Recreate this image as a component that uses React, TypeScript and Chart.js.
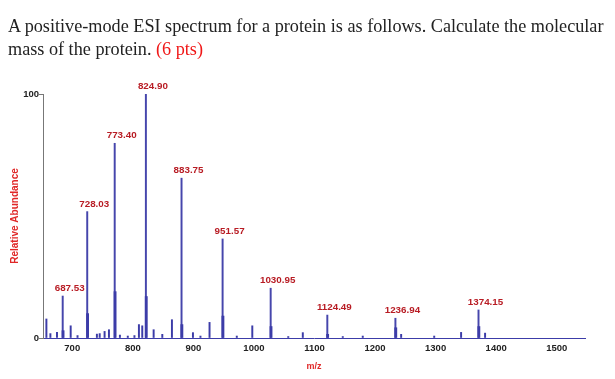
import React, { useEffect, useRef } from "react";
import { Chart, registerables } from "chart.js";

Chart.register(...registerables);

// Labelled charge-state peaks (m/z, relative abundance %)
const peakMz = [687.53, 728.03, 773.4, 824.9, 883.75, 951.57, 1030.95, 1124.49, 1236.94, 1374.15];
const peakAbundance = [17.2, 51.8, 79.8, 100, 65.5, 40.6, 20.4, 9.4, 8.1, 11.5];

// Broadened lower parts next to the main peaks
const shoulderMz = [688.1, 728.6, 774.0, 825.5, 884.3, 952.1, 1031.5, 1125.0, 1237.5, 1374.7];
const shoulderAbundance = [3, 10, 19, 17, 5.5, 9, 4.7, 1.5, 4.2, 4.7];

// Small background peaks
const noiseMz = [660.6, 667.2, 678.1, 700.7, 712, 744, 748.6, 756.7, 763.9, 782, 795, 806, 813.4, 818.9, 837.7, 852, 867.9, 902.6, 915, 930, 975, 1000.6, 1060, 1084, 1150, 1183, 1246.4, 1301, 1345.4, 1385];
const noiseAbundance = [7.8, 1.8, 2.3, 5.0, 1.0, 1.6, 1.8, 2.7, 3.4, 1.2, 0.8, 1.0, 5.5, 5.0, 3.4, 1.5, 7.5, 2.2, 0.8, 6.4, 0.8, 5.0, 0.6, 2.2, 0.6, 0.8, 1.5, 0.8, 2.3, 2.0];

const xTickValues = [700, 800, 900, 1000, 1100, 1200, 1300, 1400, 1500];
const yTickValues = [0, 100];

const SANS = '"Liberation Sans", Arial, sans-serif';

const peakLabelPlugin = {
  id: "peakLabels",
  afterDatasetsDraw(chart: any) {
    const { ctx, scales } = chart;
    const x = scales.x;
    const y = scales.y;
    ctx.save();
    ctx.font = `bold 9.8px ${SANS}`;
    ctx.fillStyle = "#b81c24";
    ctx.textAlign = "center";
    ctx.textBaseline = "alphabetic";
    peakMz.forEach((mz, i) => {
      const px = x.getPixelForValue(mz) + 7;
      const py = y.getPixelForValue(peakAbundance[i]) - 5;
      ctx.fillText(mz.toFixed(2), px, py);
    });
    ctx.restore();
  },
};

export default function App() {
  const canvasRef = useRef<HTMLCanvasElement | null>(null);

  useEffect(() => {
    if (!canvasRef.current) return;
    const toPoints = (xs: number[], ys: number[]) => xs.map((v, i) => ({ x: v, y: ys[i] }));
    const chart = new Chart(canvasRef.current, {
      type: "bar",
      data: {
        datasets: [
          {
            label: "noise",
            data: toPoints(noiseMz, noiseAbundance),
            backgroundColor: "#3c3ca8",
            barThickness: 1.3,
            grouped: false,
          },
          {
            label: "shoulders",
            data: toPoints(shoulderMz, shoulderAbundance),
            backgroundColor: "#3c3ca8",
            barThickness: 2.2,
            grouped: false,
          },
          {
            label: "peaks",
            data: toPoints(peakMz, peakAbundance),
            backgroundColor: "#4646ac",
            barThickness: 1.3,
            grouped: false,
          },
        ] as any,
      },
      options: {
        animation: false,
        responsive: false,
        devicePixelRatio: 1,
        layout: { padding: { left: 0, top: 94, right: 30, bottom: 0 } },
        plugins: { legend: { display: false }, tooltip: { enabled: false } },
        scales: {
          x: {
            type: "linear",
            min: 655,
            max: 1550,
            offset: false,
            afterBuildTicks: (s: any) => {
              s.ticks = xTickValues.map((v) => ({ value: v }));
            },
            afterFit: (s: any) => {
              s.height = 41;
            },
            grid: { display: false, drawTicks: false, offset: false },
            border: { display: true, color: "#3c3ca8", width: 1 },
            ticks: {
              font: { size: 9.5, weight: "bold", family: SANS },
              color: "#222",
              padding: 5,
              labelOffset: 2,
              maxRotation: 0,
              autoSkip: false,
              callback: (v: any) => String(v),
            },
            title: {
              display: true,
              text: "m/z",
              color: "#e02828",
              font: { size: 9, weight: "bold", family: SANS },
              padding: { top: 0, bottom: 6.6 },
            },
          },
          y: {
            min: 0,
            max: 100,
            afterBuildTicks: (s: any) => {
              s.ticks = yTickValues.map((v) => ({ value: v }));
            },
            afterFit: (s: any) => {
              s.width = 43;
            },
            grid: { display: true, drawOnChartArea: false, drawTicks: true, tickLength: 4, color: "#777" },
            border: { display: true, color: "#777", width: 1 },
            ticks: {
              font: { size: 9.5, weight: "bold", family: SANS },
              color: "#222",
              padding: 0,
              callback: (v: any) => String(v),
            },
            title: {
              display: true,
              text: "Relative Abundance",
              color: "#e02828",
              font: { size: 10, weight: "bold", family: SANS },
              padding: { top: 9, bottom: 0 },
            },
          },
        },
      } as any,
      plugins: [peakLabelPlugin],
    });
    return () => chart.destroy();
  }, []);

  return (
    <div>
      <canvas
        ref={canvasRef}
        width={615}
        height={379}
        style={{ position: "absolute", left: 0, top: 0, width: 615, height: 379 }}
      />
      <div
        style={{
          position: "absolute",
          left: 8,
          top: 15,
          width: 607,
          fontFamily: '"Liberation Serif", "Times New Roman", serif',
          fontSize: 18.2,
          lineHeight: "22.5px",
          color: "#222",
          whiteSpace: "nowrap",
        }}
      >
        A positive-mode ESI spectrum for a protein is as follows. Calculate the molecular
        <br />
        mass of the protein. <span style={{ color: "#f01818" }}>(6 pts)</span>
      </div>
    </div>
  );
}
